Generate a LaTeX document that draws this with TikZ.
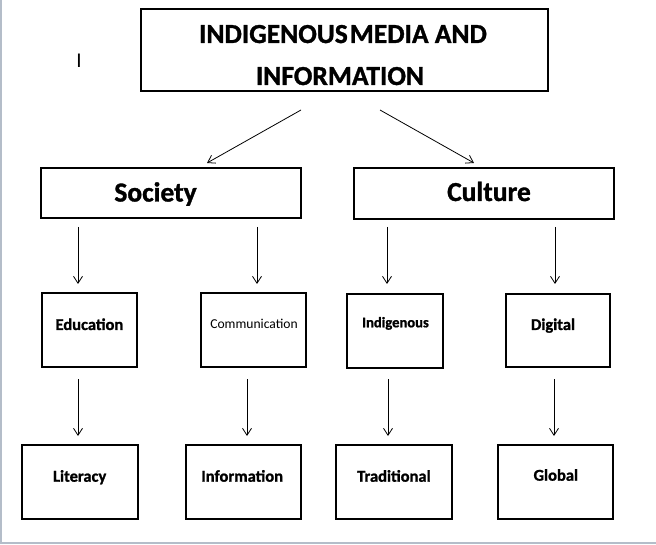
\documentclass[tikz,border=0pt]{standalone}
\usepackage{fontspec}
\setmainfont[BoldFeatures={FakeBold=1.2}]{Carlito}
\usetikzlibrary{arrows.meta}
\definecolor{pageedge}{HTML}{B4BDC9}
\tikzset{
  box/.style={draw=black, line width=2pt, inner sep=0pt},
  arr/.style={draw=black, line width=0.8pt, -{Straight Barb[length=7pt,width=9pt,line width=0.8pt]}},
  big/.style={font=\bfseries\fontsize{27.5pt}{30pt}\selectfont, inner sep=0pt, anchor=base},
  mid/.style={font=\bfseries\fontsize{16.5pt}{19pt}\selectfont, inner sep=0pt, anchor=base},
}
\begin{document}
\begin{tikzpicture}[x=1pt,y=-1pt]
\useasboundingbox (0,0) rectangle (656,545);
% page edges
\draw[pageedge, line width=1.5pt] (1,0) -- (1,543) -- (656,543);
% boxes
\node[box, minimum width=407pt, minimum height=82pt] (top) at (344.5,50) {};
\node[box, minimum width=260pt, minimum height=50pt] (soc) at (171,193) {};
\node[box, minimum width=260pt, minimum height=51pt] (cul) at (484,193.5) {};
\node[box, minimum width=95pt, minimum height=74pt] (edu) at (89.5,330) {};
\node[box, minimum width=105pt, minimum height=74pt] (com) at (253.3,330) {};
\node[box, minimum width=96pt, minimum height=74pt] (ind) at (395,331) {};
\node[box, minimum width=104pt, minimum height=73pt] (dig) at (558,330.5) {};
\node[box, minimum width=116pt, minimum height=74pt] (lit) at (80,482) {};
\node[box, minimum width=115pt, minimum height=74pt] (inf) at (243.5,482) {};
\node[box, minimum width=116pt, minimum height=74pt] (tra) at (394,482) {};
\node[box, minimum width=115pt, minimum height=74pt] (glo) at (555.5,482) {};
% texts
\node[big] (topa) at (343,43) {INDIGENOUS\hspace{2pt}MEDIA AND};
\node[big] (topb) at (340,85) {INFORMATION};
\node[font=\fontsize{21pt}{24pt}\selectfont, inner sep=0pt, anchor=base] (mark) at (79,68) {I};
\node[big] (soct) at (155.5,201.5) {Society};
\node[big] (cult) at (489,201) {Culture};
\node[mid] (edut) at (89.4,330) {Education};
\node[font=\fontsize{13.6pt}{16pt}\selectfont, inner sep=0pt, anchor=base] (comt) at (254,329) {Communication};
\node[font=\bfseries\fontsize{14.6pt}{17pt}\selectfont, inner sep=0pt, anchor=base] (indt) at (395.5,327.3) {Indigenous};
\node[mid] (digt) at (553,330) {Digital};
\node[mid] (litt) at (79.7,481.7) {Literacy};
\node[mid] (inft) at (242.2,481.7) {Information};
\node[mid] (trat) at (393.9,481.7) {Traditional};
\node[mid] (glot) at (555.8,480.7) {Global};
% connector end points
\coordinate (d1s) at (301,110); \coordinate (d1e) at (207,163);
\coordinate (d2s) at (380,110); \coordinate (d2e) at (474,163);
\coordinate (v1s) at (78,227);  \coordinate (v1e) at (78,284);
\coordinate (v2s) at (257,227); \coordinate (v2e) at (257,284);
\coordinate (v3s) at (387,227); \coordinate (v3e) at (387,284);
\coordinate (v4s) at (555,227); \coordinate (v4e) at (555,284);
\coordinate (w1s) at (78,379);  \coordinate (w1e) at (78,436);
\coordinate (w2s) at (247,379); \coordinate (w2e) at (247,436);
\coordinate (w3s) at (388,379); \coordinate (w3e) at (388,436);
\coordinate (w4s) at (554,379); \coordinate (w4e) at (554,436);
% connectors
\draw[arr] (d1s) -- (d1e);
\draw[arr] (d2s) -- (d2e);
\draw[arr] (v1s) -- (v1e);
\draw[arr] (v2s) -- (v2e);
\draw[arr] (v3s) -- (v3e);
\draw[arr] (v4s) -- (v4e);
\draw[arr] (w1s) -- (w1e);
\draw[arr] (w2s) -- (w2e);
\draw[arr] (w3s) -- (w3e);
\draw[arr] (w4s) -- (w4e);
\end{tikzpicture}
\end{document}
